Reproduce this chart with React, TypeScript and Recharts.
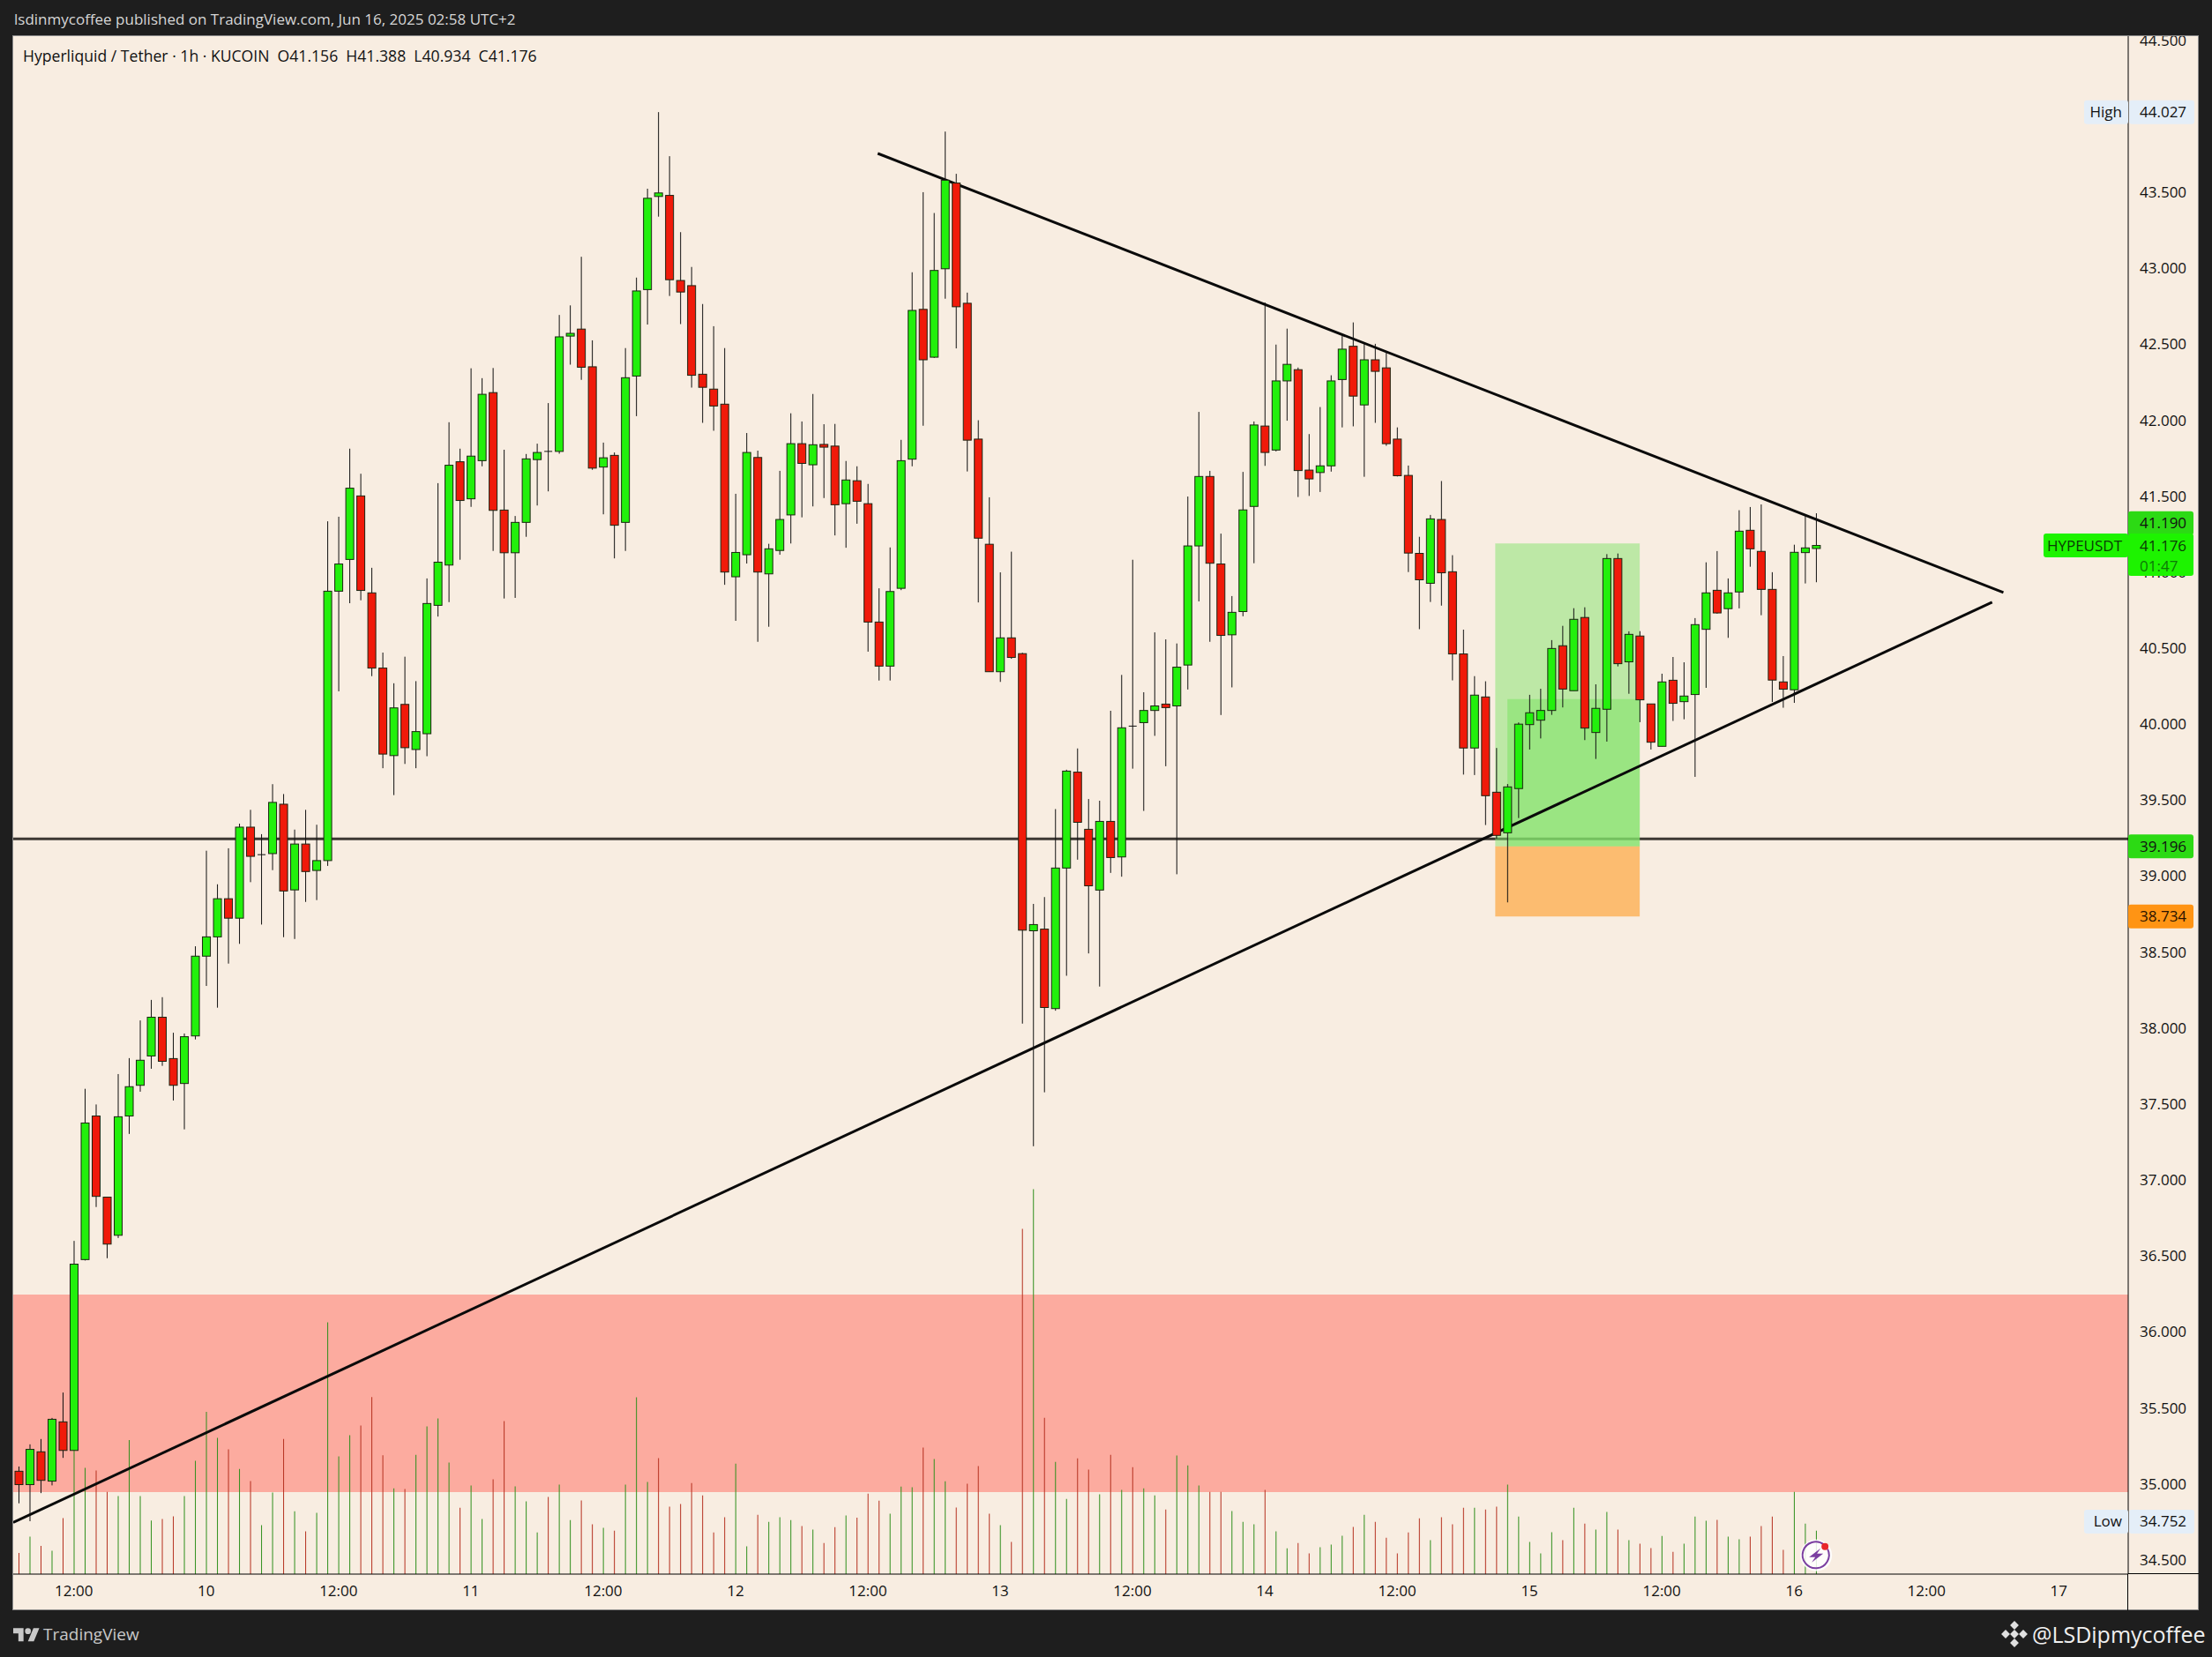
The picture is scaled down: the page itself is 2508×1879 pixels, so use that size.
import { Bar, Cell, ComposedChart, ReferenceArea, ReferenceDot, ReferenceLine, XAxis, YAxis } from "recharts";

const FONT = "'Open Sans', sans-serif";
const BG = "#F8EDE1";
const FRAME = "#1E1E1E";
const GREEN = "#22F00C";
const RED = "#F01A0A";

// hourly candles, 9 Jun 07:00 -> 16 Jun 02:00
const opens = [
  35.083, 34.995, 35.211, 35.018, 35.408, 35.22, 36.476, 37.421, 36.887, 36.636, 37.421, 37.623, 37.816, 38.071, 37.799, 37.635,
  37.948, 38.473, 38.6, 38.851, 38.723, 39.322, 39.141, 39.148, 39.473, 38.909, 39.211, 39.037, 39.102, 40.875, 41.084, 41.502,
  40.864, 40.369, 39.793, 40.13, 39.833, 39.937, 40.782, 41.047, 41.727, 41.483, 41.734, 42.182, 41.409, 41.128, 41.328, 41.741,
  41.795, 41.795, 42.554, 42.6, 42.352, 41.692, 41.769, 41.328, 42.291, 42.86, 43.473, 43.48, 42.92, 42.886, 42.303, 42.205,
  42.106, 40.97, 41.115, 41.755, 40.989, 41.143, 41.377, 41.846, 41.707, 41.841, 41.83, 41.451, 41.602, 41.451, 40.672, 40.382,
  40.894, 41.744, 42.73, 42.415, 42.997, 43.561, 42.77, 41.876, 41.184, 40.345, 40.568, 40.464, 38.64, 38.651, 38.128, 39.053,
  39.684, 39.308, 38.908, 39.36, 39.126, 39.987, 40.01, 40.09, 40.132, 40.12, 40.389, 41.173, 41.63, 41.054, 40.588, 40.741,
  41.433, 41.962, 41.804, 42.259, 42.333, 41.672, 41.656, 41.7, 42.268, 42.487, 42.101, 42.398, 42.345, 41.876, 41.637, 41.124,
  40.927, 41.347, 41.003, 40.462, 39.843, 40.179, 39.552, 39.285, 39.576, 39.997, 40.026, 40.09, 40.516, 40.22, 40.702, 39.945,
  40.098, 41.09, 40.41, 40.58, 40.133, 39.854, 40.289, 40.148, 40.195, 40.624, 40.881, 40.76, 40.87, 41.276, 41.137, 40.887,
  40.278, 40.226, 41.129, 41.156,
];
const highs = [
  35.114, 35.26, 35.295, 35.434, 35.601, 36.599, 37.6, 37.497, 36.89, 37.697, 37.802, 38.05, 38.185, 38.203, 37.969, 37.964,
  38.538, 39.167, 38.946, 39.183, 39.345, 39.436, 39.276, 39.605, 39.54, 39.306, 39.436, 39.338, 41.335, 41.365, 41.813, 41.648,
  41.029, 40.471, 40.269, 40.444, 40.283, 40.959, 41.586, 41.987, 41.813, 42.342, 42.277, 42.344, 41.806, 41.37, 41.778, 41.846,
  42.113, 42.693, 42.756, 43.076, 42.526, 41.853, 41.788, 42.475, 42.939, 43.524, 44.028, 43.738, 43.238, 43.009, 42.765, 42.619,
  42.475, 41.516, 41.916, 41.8, 41.187, 41.667, 42.046, 41.992, 42.173, 41.974, 41.976, 41.732, 41.697, 41.581, 40.894, 41.163,
  41.871, 42.974, 43.501, 43.364, 43.9, 43.622, 42.84, 42.0, 41.493, 40.999, 41.135, 40.47, 38.817, 38.862, 39.441, 39.7,
  39.84, 39.507, 39.496, 40.088, 40.324, 41.082, 40.21, 40.604, 40.558, 40.531, 41.498, 42.055, 41.667, 41.254, 40.843, 41.66,
  41.992, 42.775, 42.498, 42.603, 42.347, 41.909, 42.087, 42.296, 42.554, 42.644, 42.51, 42.503, 42.456, 41.953, 41.702, 41.233,
  41.377, 41.6, 41.112, 40.622, 40.316, 40.282, 39.843, 39.606, 40.011, 40.193, 40.233, 40.553, 40.647, 40.763, 40.769, 40.262,
  41.119, 41.123, 40.611, 40.612, 40.133, 40.332, 40.442, 40.407, 40.698, 41.065, 41.139, 40.959, 41.408, 41.429, 41.446, 41.0,
  40.448, 41.181, 41.381, 41.388,
];
const lows = [
  34.872, 34.754, 34.939, 34.99, 35.171, 35.22, 36.47, 36.822, 36.485, 36.618, 37.303, 37.581, 37.732, 37.751, 37.523, 37.333,
  37.925, 38.277, 38.134, 38.424, 38.554, 38.96, 38.681, 39.039, 38.598, 38.586, 38.83, 38.842, 39.067, 40.216, 40.796, 40.815,
  40.316, 39.71, 39.533, 39.738, 39.71, 39.789, 40.708, 40.803, 41.082, 41.43, 41.697, 41.14, 40.827, 40.831, 41.233, 41.439,
  41.532, 41.78, 42.366, 42.266, 41.674, 41.381, 41.091, 41.14, 42.027, 42.63, 43.34, 42.818, 42.633, 42.215, 41.983, 41.931,
  40.917, 40.68, 41.057, 40.542, 40.641, 41.115, 41.189, 41.361, 41.433, 41.488, 41.242, 41.161, 41.319, 40.477, 40.287, 40.287,
  40.882, 41.697, 41.964, 42.41, 42.8, 42.473, 41.663, 40.801, 40.345, 40.278, 40.43, 38.029, 37.222, 37.577, 38.114, 38.344,
  39.108, 38.491, 38.273, 39.021, 38.996, 39.707, 39.429, 39.923, 39.723, 39.012, 40.228, 40.808, 40.542, 40.06, 40.242, 40.71,
  41.059, 41.7, 41.795, 41.997, 41.495, 41.502, 41.528, 41.662, 41.953, 41.96, 41.628, 41.983, 41.832, 41.63, 41.001, 40.625,
  40.804, 40.78, 40.288, 39.668, 39.665, 39.336, 39.247, 38.827, 39.382, 39.833, 39.906, 40.061, 40.11, 40.22, 39.895, 39.771,
  39.885, 40.38, 40.2, 40.013, 39.833, 39.854, 40.021, 40.032, 39.653, 40.239, 40.727, 40.568, 40.762, 41.036, 40.717, 40.146,
  40.108, 40.14, 40.926, 40.934,
];
const closes = [
  34.995, 35.227, 35.023, 35.425, 35.22, 36.446, 37.375, 36.892, 36.578, 37.416, 37.614, 37.788, 38.071, 37.781, 37.623, 37.943,
  38.473, 38.6, 38.851, 38.723, 39.322, 39.13, 39.141, 39.485, 38.902, 39.211, 39.03, 39.102, 40.875, 41.054, 41.553, 40.88,
  40.369, 39.803, 40.107, 39.845, 39.951, 40.794, 41.066, 41.704, 41.472, 41.764, 42.171, 41.407, 41.128, 41.328, 41.746, 41.788,
  41.795, 42.549, 42.572, 42.349, 41.685, 41.753, 41.309, 42.28, 42.851, 43.461, 43.496, 42.925, 42.844, 42.296, 42.217, 42.094,
  41.001, 41.13, 41.788, 41.001, 41.154, 41.347, 41.846, 41.716, 41.839, 41.823, 41.444, 41.607, 41.467, 40.672, 40.382, 40.873,
  41.734, 42.723, 42.398, 42.986, 43.58, 42.747, 41.869, 41.224, 40.345, 40.568, 40.439, 38.644, 38.681, 38.135, 39.053, 39.691,
  39.354, 38.936, 39.36, 39.122, 39.976, 39.987, 40.09, 40.12, 40.109, 40.375, 41.173, 41.63, 41.059, 40.584, 40.736, 41.41,
  41.969, 41.788, 42.259, 42.368, 41.669, 41.614, 41.7, 42.259, 42.468, 42.159, 42.398, 42.322, 41.846, 41.635, 41.126, 40.95,
  41.351, 40.996, 40.462, 39.843, 40.191, 39.529, 39.268, 39.587, 40.0, 40.075, 40.09, 40.498, 40.231, 40.69, 39.974, 40.104,
  41.09, 40.398, 40.591, 40.16, 39.881, 40.278, 40.137, 40.185, 40.655, 40.864, 40.732, 40.864, 41.27, 41.154, 40.887, 40.29,
  40.23, 41.131, 41.16, 41.176,
];
// volume has no scale in the picture, so these are relative units
const volumes = [
  60, 106, 80, 66, 159, 380, 301, 294, 233, 221, 380, 221, 152, 156, 164, 221,
  321, 460, 386, 354, 298, 264, 139, 231, 383, 178, 121, 174, 714, 334, 394, 421,
  502, 337, 243, 241, 338, 419, 441, 316, 188, 251, 156, 269, 434, 249, 206, 118,
  219, 254, 153, 209, 141, 131, 123, 254, 501, 261, 329, 191, 199, 258, 223, 118,
  161, 313, 79, 168, 148, 161, 153, 136, 126, 88, 133, 166, 160, 228, 208, 171,
  248, 246, 359, 326, 263, 189, 256, 306, 171, 139, 91, 979, 1091, 443, 318, 213,
  328, 296, 226, 338, 239, 303, 243, 223, 183, 336, 308, 251, 233, 233, 179, 148,
  141, 239, 121, 73, 88, 59, 76, 84, 109, 134, 168, 148, 103, 59, 118, 158,
  96, 161, 141, 188, 188, 183, 191, 254, 163, 91, 59, 119, 96, 188, 143, 126,
  176, 126, 96, 86, 74, 108, 63, 86, 163, 151, 154, 106, 99, 106, 136, 163,
  69, 233, 143, 123,
];
// bars whose volume colour is red although the candle closed flat or up
const redVolumeBars = [48, 58, 101];

const priceTicks = [34.5, 35, 35.5, 36, 36.5, 37, 37.5, 38, 38.5, 39, 39.5, 40, 40.5, 41, 41.5, 42, 42.5, 43, 43.5, 44, 44.5];
const timeTicks = [5, 17, 29, 41, 53, 65, 77, 89, 101, 113, 125, 137, 149, 161, 173, 185];
const timeLabels = ["12:00", "10", "12:00", "11", "12:00", "12", "12:00", "13", "12:00", "14", "12:00", "15", "12:00", "16", "12:00", "17"];

const redZone = [34.946, 36.246];
const supportLevel = 39.245;
const entryPrice = 39.196;
const targetPrice = 41.19;
const stopPrice = 38.734;
const lastPrice = 41.176;
const highPrice = 44.027;
const lowPrice = 34.752;
const rangeZonePrice = 40.165;
const upperTrend = [{ x: 77.9, y: 43.756 }, { x: 179.98, y: 40.867 }];
const lowerTrend = [{ x: -0.5, y: 34.746 }, { x: 178.96, y: 40.803 }];

const X_DOMAIN = [-0.5, 191.3];
const Y_DOMAIN = [34.406, 44.528];

const data = opens.map((open, i) => ({
  i,
  open,
  high: highs[i],
  low: lows[i],
  close: closes[i],
  range: [lows[i], highs[i]],
  volume: volumes[i],
}));

function Candle(props: any) {
  const { x, y, width, height, payload } = props;
  const { open, close, high, low } = payload;
  const perPrice = height / (high - low);
  const cx = x + width / 2;
  const top = y + (high - Math.max(open, close)) * perPrice;
  const bottom = y + (high - Math.min(open, close)) * perPrice;
  return (
    <g>
      <line x1={cx} x2={cx} y1={y} y2={y + height} stroke="#111" strokeWidth={1} />
      {open === close ? (
        <line x1={x} x2={x + width} y1={top} y2={top} stroke="#111" strokeWidth={1} />
      ) : (
        <rect x={x} y={top} width={width} height={bottom - top} fill={close > open ? GREEN : RED} stroke="#1B2412" strokeWidth={1} />
      )}
    </g>
  );
}

// price tag on the right axis, cx is the axis line
function PriceTag({ cx, cy, text, fill, color = "#111", dy = 0, h = 27, side, sideFill, sub, split }: any) {
  const top = cy + dy - 13.5;
  const baseline = top + 19.5;
  return (
    <g>
      {side && <rect x={cx - (sideFill ? 96 : 50)} y={top} width={sideFill ? 96 : 50} height={27} fill={sideFill || fill} rx={3} />}
      {side && (
        <text x={cx - 7} y={baseline} textAnchor="end" fontSize={17} fontFamily={FONT} fill={color}>
          {side}
        </text>
      )}
      <rect x={cx + (split ? 1 : 0)} y={top} width={74} height={h} fill={fill} rx={3} />
      <text x={cx + 13} y={baseline} fontSize={17} fontFamily={FONT} fill={color}>
        {text}
      </text>
      {sub && (
        <text x={cx + 13} y={baseline + 23} fontSize={17} fontFamily={FONT} fill="#0C7A06">
          {sub}
        </text>
      )}
    </g>
  );
}

function FlashBadge({ cx, cy }: any) {
  return (
    <g>
      <circle cx={cx} cy={cy} r={18} fill="#fff" fillOpacity={0.85} />
      <path d={`M ${cx + 9} ${cy - 12} A 15 15 0 1 0 ${cx + 13} ${cy - 7}`} fill="none" stroke="#7B3FA0" strokeWidth={2} />
      <path
        d={`M ${cx + 5} ${cy - 8} L ${cx - 8} ${cy + 2} L ${cx - 1} ${cy + 2} L ${cx - 5} ${cy + 8} L ${cx + 8} ${cy - 2} L ${cx + 1} ${cy - 2} Z`}
        fill="#7B3FA0"
      />
      <circle cx={cx + 10} cy={cy - 10} r={4} fill="#E8262B" />
    </g>
  );
}

export default function App() {
  return (
    <div style={{ position: "absolute", left: 0, top: 0, width: 2508, height: 1879, background: FRAME, overflow: "hidden", fontFamily: FONT }}>
      <div style={{ position: "absolute", left: 16, top: 10, fontSize: 17, color: "#D6D6D6", whiteSpace: "pre" }}>
        lsdinmycoffee published on TradingView.com, Jun 16, 2025 02:58 UTC+2
      </div>
      <div style={{ position: "absolute", left: 14, top: 40, width: 2479, height: 1786, border: "1px solid #8A8A8A", background: BG, boxSizing: "border-box" }} />
      <div style={{ position: "absolute", left: 15, top: 41 }}>
        <ComposedChart width={2478} height={1785} data={data} margin={{ top: 0, right: 0, bottom: 0, left: 0 }}>
          <XAxis
            dataKey="i"
            type="number"
            domain={X_DOMAIN}
            ticks={timeTicks}
            interval={0}
            allowDataOverflow
            height={41}
            tickSize={0}
            tickMargin={13}
            tick={{ fontSize: 17, fontFamily: FONT, fill: "#111" }}
            tickFormatter={(v: number) => timeLabels[timeTicks.indexOf(v)]}
            axisLine={{ stroke: "#000", strokeWidth: 1 }}
            tickLine={false}
          />
          <XAxis xAxisId="vol" dataKey="i" type="number" domain={X_DOMAIN} allowDataOverflow hide />
          <YAxis
            orientation="right"
            type="number"
            domain={Y_DOMAIN}
            ticks={priceTicks}
            interval={0}
            allowDataOverflow
            width={80}
            tickSize={0}
            tickMargin={13}
            tick={{ fontSize: 17, fontFamily: FONT, fill: "#111" }}
            tickFormatter={(v: number) => v.toFixed(3)}
            axisLine={{ stroke: "#000", strokeWidth: 1 }}
            tickLine={false}
          />
          <YAxis yAxisId="vol" xAxisId="vol" domain={[0, 4360]} hide />

          <ReferenceArea y1={redZone[0]} y2={redZone[1]} fill="#FCAB9F" fillOpacity={1} stroke="none" ifOverflow="visible" zIndex={50} />
          <Bar xAxisId="vol" yAxisId="vol" dataKey="volume" barSize={1} isAnimationActive={false} zIndex={60}>
            {data.map((d) => (
              <Cell key={d.i} fill={d.close >= d.open && !redVolumeBars.includes(d.i) ? "#2F8F1C" : "#B5301F"} />
            ))}
          </Bar>
          <ReferenceLine y={supportLevel} stroke="#3D3833" strokeWidth={3} ifOverflow="visible" zIndex={70} />
          <ReferenceArea x1={133.9} x2={147} y1={entryPrice} y2={targetPrice} fill="#82E36B" fillOpacity={0.5} stroke="none" ifOverflow="visible" zIndex={80} />
          <ReferenceArea x1={135} x2={147} y1={entryPrice} y2={rangeZonePrice} fill="#82E36B" fillOpacity={0.6} stroke="none" ifOverflow="visible" zIndex={81} />
          <ReferenceArea x1={133.9} x2={147} y1={stopPrice} y2={entryPrice} fill="#FF8B00" fillOpacity={0.5} stroke="none" ifOverflow="visible" zIndex={82} />
          <ReferenceLine segment={upperTrend} stroke="#0A0A0A" strokeWidth={3} ifOverflow="visible" zIndex={90} />
          <ReferenceLine segment={lowerTrend} stroke="#0A0A0A" strokeWidth={3} ifOverflow="visible" zIndex={90} />
          <Bar dataKey="range" barSize={9} shape={Candle} isAnimationActive={false} zIndex={300} />

          <ReferenceDot x={163} y={34.53} ifOverflow="visible" zIndex={2000} shape={(p: any) => <FlashBadge cx={p.cx} cy={p.cy} />} />
          <ReferenceDot x={X_DOMAIN[1]} y={highPrice} ifOverflow="visible" zIndex={2000}
            shape={(p: any) => <PriceTag cx={p.cx} cy={p.cy} text="44.027" fill="#E4EEF8" side="High" split />} />
          <ReferenceDot x={X_DOMAIN[1]} y={lowPrice} ifOverflow="visible" zIndex={2000}
            shape={(p: any) => <PriceTag cx={p.cx} cy={p.cy} text="34.752" fill="#E4EEF8" side="Low" split />} />
          <ReferenceDot x={X_DOMAIN[1]} y={targetPrice} ifOverflow="visible" zIndex={2000}
            shape={(p: any) => <PriceTag cx={p.cx} cy={p.cy} dy={-23} text="41.190" fill="#2CDA14" />} />
          <ReferenceDot x={X_DOMAIN[1]} y={lastPrice} ifOverflow="visible" zIndex={2001}
            shape={(p: any) => <PriceTag cx={p.cx} cy={p.cy} text="41.176" fill="#1DF300" h={48} side="HYPEUSDT" sideFill="#1DF300" sub="01:47" color="#0B3B06" />} />
          <ReferenceDot x={X_DOMAIN[1]} y={entryPrice} ifOverflow="visible" zIndex={2000}
            shape={(p: any) => <PriceTag cx={p.cx} cy={p.cy} text="39.196" fill="#2CDA14" />} />
          <ReferenceDot x={X_DOMAIN[1]} y={stopPrice} ifOverflow="visible" zIndex={2000}
            shape={(p: any) => <PriceTag cx={p.cx} cy={p.cy} text="38.734" fill="#FF9414" color="#2A1200" />} />
        </ComposedChart>
      </div>
      <div style={{ position: "absolute", left: 26, top: 51, fontSize: 17.6, color: "#111", whiteSpace: "pre" }}>
        {"Hyperliquid / Tether · 1h · KUCOIN  O41.156  H41.388  L40.934  C41.176"}
      </div>
      {/* axis lines carry on across the corner of the price and time strips */}
      <div style={{ position: "absolute", left: 2413, top: 1784, width: 80, height: 1, background: "#000" }} />
      <div style={{ position: "absolute", left: 2412, top: 1785, width: 1, height: 41, background: "#000" }} />

      <svg style={{ position: "absolute", left: 15, top: 1843 }} width={30} height={20} viewBox="0 0 36 24">
        <path d="M14 22H7V11H0V4h14v18zM28 22h-8l7.5-18h8L28 22z" fill="#C8C8C8" />
        <circle cx="20" cy="8" r="4" fill="#C8C8C8" />
      </svg>
      <div style={{ position: "absolute", left: 49, top: 1840, fontSize: 19, color: "#C8C8C8" }}>TradingView</div>
      <svg style={{ position: "absolute", left: 2268, top: 1837 }} width={32} height={32} viewBox="-16 -16 32 32">
        {[[0, -10], [10, 0], [0, 10], [-10, 0], [0, 0]].map(([dx, dy]) => (
          <rect key={`${dx}${dy}`} x={dx - 3.5} y={dy - 3.5} width={7} height={7} fill="#E0E0E0" transform={`rotate(45 ${dx} ${dy})`} />
        ))}
      </svg>
      <div style={{ position: "absolute", left: 2304, top: 1836, fontSize: 25, color: "#F0F0F0", whiteSpace: "pre" }}>@LSDipmycoffee</div>
    </div>
  );
}
